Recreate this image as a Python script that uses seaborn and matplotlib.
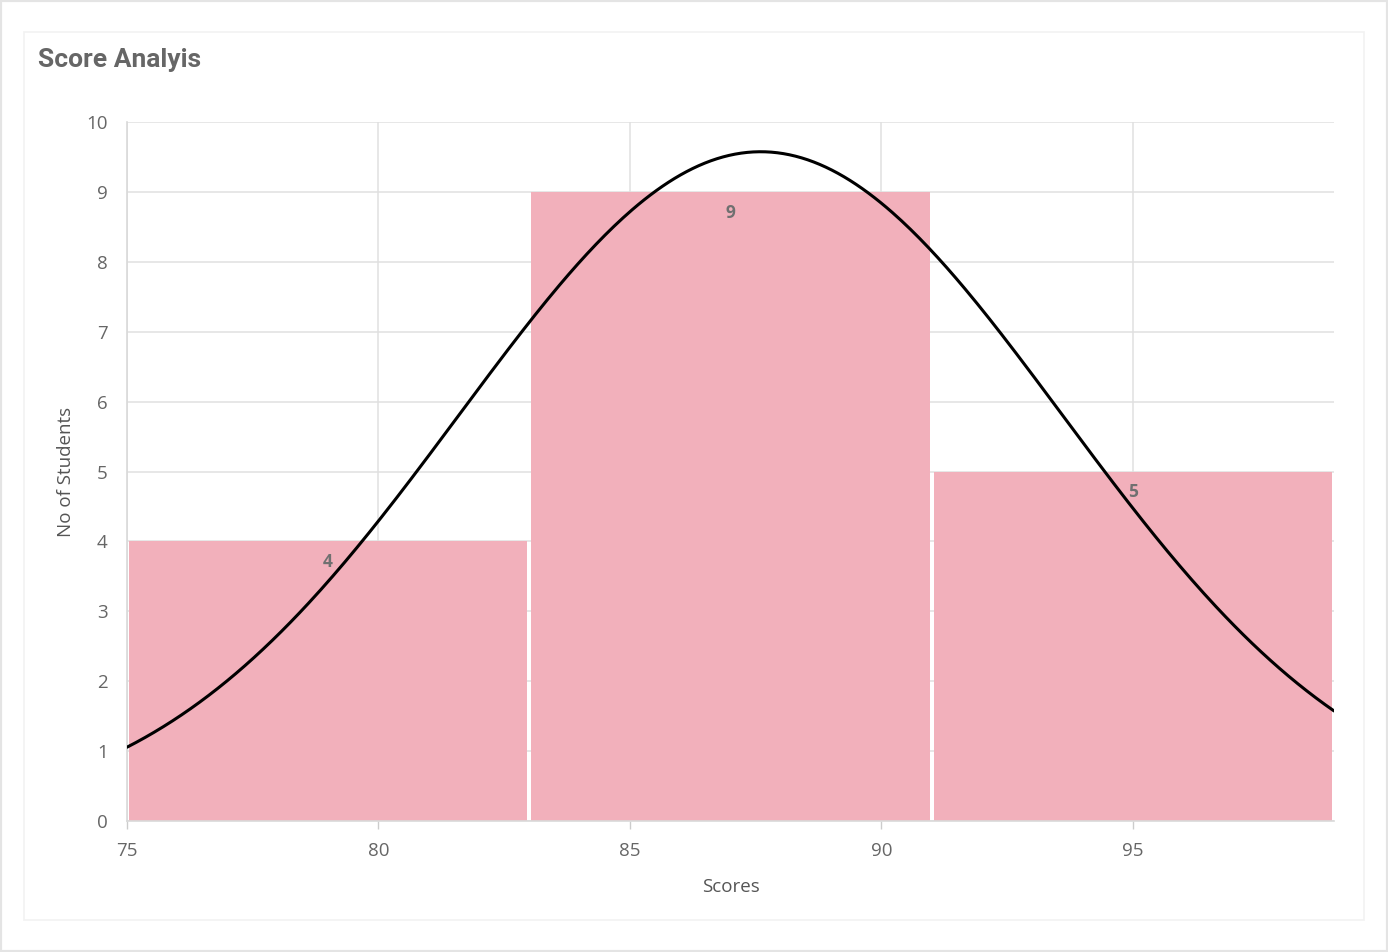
import numpy as np
import pandas as pd
import matplotlib
matplotlib.use("Agg")
import matplotlib.pyplot as plt
import seaborn as sns
from matplotlib.patches import Rectangle

# ---- data ----
bin_edges = [75, 83, 91, 99]
counts = [4, 9, 5]
bin_centers = [79, 87, 95]
score_mean = 87.6
score_sd = 6.0
n_students = 18
bin_width = 8
x_ticks = [75, 80, 85, 90, 95]
y_ticks = [0, 1, 2, 3, 4, 5, 6, 7, 8, 9, 10]
title = "Score Analyis"
x_label = "Scores"
y_label = "No of Students"

sns.set_theme(style="white")
plt.rcParams['font.family'] = ['Open Sans', 'DejaVu Sans']

fig = plt.figure(figsize=(13.88, 9.52), dpi=100)
fig.patch.set_facecolor("white")

# outer frame and card
fig.patches.append(Rectangle((0, 0), 1, 1, transform=fig.transFigure, fill=False,
                             edgecolor="#e4e4e4", linewidth=3, zorder=-10))
card = Rectangle((24/1388, 1-920/952), (1364-24)/1388, (920-32)/952,
                 transform=fig.transFigure, facecolor="white",
                 edgecolor="#f2f2f2", linewidth=1.2, zorder=-10)
fig.patches.append(card)

ax = fig.add_axes([127/1388, 1-821/952, (1334-127)/1388, (821-122)/952])
ax.set_zorder(5)
ax.set_facecolor("none")

df = pd.DataFrame({"score": bin_centers, "count": counts})
sns.histplot(data=df, x="score", weights="count", bins=bin_edges, shrink=0.99,
             color="#F2B0BB", alpha=1, edgecolor="none", linewidth=0, ax=ax, zorder=2)

xs = np.linspace(bin_edges[0], bin_edges[-1], 400)
curve = n_students * bin_width * np.exp(-0.5 * ((xs - score_mean) / score_sd) ** 2) / (score_sd * np.sqrt(2 * np.pi))
sns.lineplot(x=xs, y=curve, color="black", linewidth=2.2, ax=ax, zorder=4)

for c, v in zip(bin_centers, counts):
    ax.text(c, v - 0.3, str(v), ha="center", va="center", fontsize=12.5,
            fontweight="bold", color="#707070", zorder=5)

ax.set_xlim(bin_edges[0], bin_edges[-1])
ax.set_ylim(0, 10)
ax.set_xticks(x_ticks)
ax.set_yticks(y_ticks)
ax.grid(True, color="#e0e0e0", linewidth=1.1, zorder=0)
ax.set_axisbelow(True)
for s in ["top", "right"]:
    ax.spines[s].set_visible(False)
for s in ["left", "bottom"]:
    ax.spines[s].set_color("#d9d9d9")
    ax.spines[s].set_linewidth(1.2)
ax.tick_params(axis="x", length=6, width=1, color="#cccccc", pad=9,
               labelsize=13.5, labelcolor="#666666", bottom=True)
ax.tick_params(axis="y", length=0, pad=14, labelsize=13.5, labelcolor="#666666", left=False)

ax.set_xlabel(x_label, fontsize=13.5, color="#555555", labelpad=13)
ax.set_ylabel(y_label, fontsize=13.5, color="#555555", labelpad=8)

fig.text(38/1388, 1-60/952, title, fontsize=19, fontweight="bold", color="#666666",
         ha="left", va="center", family=["Roboto", "DejaVu Sans"])

fig.savefig("out.png", dpi=100)
